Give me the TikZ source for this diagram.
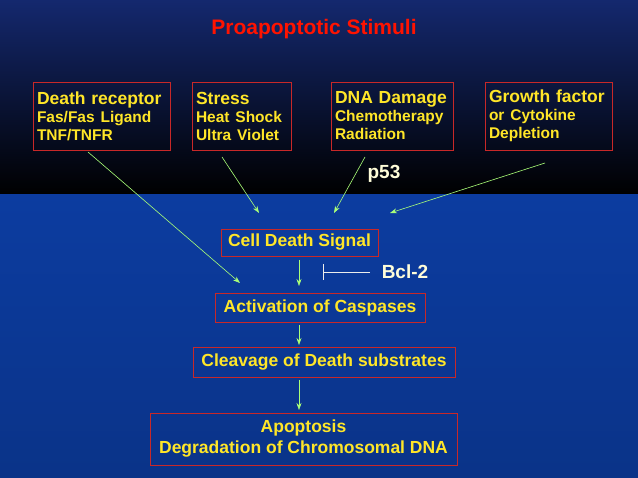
\documentclass[tikz,border=0pt]{standalone}
\usepackage{fontspec}
\setmainfont{Liberation Sans}
\usetikzlibrary{arrows.meta}
\definecolor{ytxt}{RGB}{255,230,40}
\definecolor{bord}{RGB}{200,40,40}
\definecolor{arr}{RGB}{170,255,120}
\definecolor{topc}{RGB}{20,40,110}
\definecolor{botc}{RGB}{12,60,160}
\tikzset{
 box/.style={draw=bord,line width=0.7pt,inner xsep=4pt,inner ysep=3pt,text=ytxt,font=\bfseries\fontsize{17.5}{18}\selectfont,align=left},
 cbox/.style={box,align=center,font=\bfseries\fontsize{17.5}{21}\selectfont},
 ar/.style={draw=arr,line width=0.6pt,-{Stealth[length=7pt,width=5pt]}}
}
\newcommand\subf{\fontsize{15.5}{18}\selectfont}
\begin{document}
\begin{tikzpicture}[x=1pt,y=-1pt]
\useasboundingbox (0,0) rectangle (638,478);
\shade[top color=topc,bottom color=black] (0,0) rectangle (638,195);
\shade[top color=botc,bottom color=botc!85!black] (0,195) rectangle (638,478);
\node[text=red!85!orange,font=\bfseries\fontsize{21}{23}\selectfont] (title) at (314,29) {Proapoptotic Stimuli};
\node[box,minimum width=137pt,minimum height=68pt,text width=129pt] (dr) at (101.5,116) {Death receptor\\{\subf Fas/Fas Ligand\\TNF/TNFR}};
\node[box,minimum width=99pt,minimum height=68pt,text width=91pt] (st) at (241.5,116) {Stress\\{\subf Heat Shock\\Ultra Violet}};
\node[box,minimum width=122pt,minimum height=68pt,text width=114pt] (dna) at (392,116) {DNA Damage\\{\subf Chemotherapy\\Radiation}};
\node[box,minimum width=127pt,minimum height=68pt,text width=119pt] (gf) at (548.5,116) {Growth factor\\{\subf or Cytokine\\Depletion}};
\node[text=white!85!yellow,font=\bfseries\fontsize{19}{21}\selectfont] (p53) at (384,174) {p53};
\node[cbox,minimum width=157pt,minimum height=27pt] (cds) at (299.5,242.5) {Cell Death Signal};
\node[cbox,minimum width=210pt,minimum height=29pt] (ac) at (320,307.5) {Activation of Caspases};
\node[cbox,minimum width=262pt,minimum height=30pt] (cl) at (324,362) {Cleavage of Death substrates};
\node[cbox,minimum width=307pt,minimum height=52pt] (ap) at (303.5,439) {Apoptosis\\Degradation of Chromosomal DNA};
\node[text=white!85!yellow,font=\bfseries\fontsize{19}{21}\selectfont] (bcl) at (405,272) {Bcl-2};
\coordinate (bs) at (370,272); \coordinate (be) at (323,272);
\draw[white!85!gray,line width=0.6pt] (bs) -- (be) (323,264) -- (323,280);
\coordinate (a1) at (88,152); \coordinate (a1e) at (240,283);
\coordinate (a2) at (222,157); \coordinate (a2e) at (259,213);
\coordinate (a3) at (365,157); \coordinate (a3e) at (334,213);
\coordinate (a4) at (545,163); \coordinate (a4e) at (390,213);
\draw[ar] (a1) -- (a1e);
\draw[ar] (a2) -- (a2e);
\draw[ar] (a3) -- (a3e);
\draw[ar] (a4) -- (a4e);
\draw[ar] (299,260) -- (299,286);
\draw[ar] (299,325) -- (299,345);
\draw[ar] (299,380) -- (299,410);
\end{tikzpicture}
\end{document}
